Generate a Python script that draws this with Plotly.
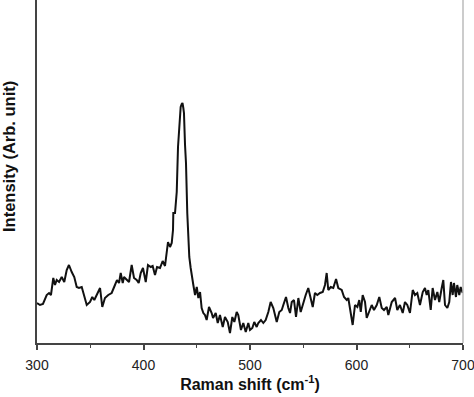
import plotly.graph_objects as go

raman_shift = [300.0, 302.8, 305.6, 309.1, 311.3, 313.1, 315.3, 316.9, 318.5, 320.7, 323.2, 325.6, 327.9, 330.0,
               332.6, 335.0, 337.3, 339.4, 342.0, 344.4, 346.7, 349.8, 351.9, 353.8, 356.1, 359.2, 361.3, 363.8,
               366.9, 370.1, 373.2, 375.1, 377.0, 378.6, 380.5, 381.7, 384.5, 386.4, 388.9, 391.1, 393.6, 395.5,
               397.4, 399.5, 402.1, 404.2, 406.8, 408.6, 410.8, 412.7, 415.5, 418.0, 420.2, 421.8, 423.0, 424.9,
               426.5, 427.7, 428.0, 429.6, 431.2, 432.4, 433.6, 434.9, 435.9, 436.6, 437.4, 438.0, 439.0, 439.9,
               441.1, 442.1, 443.0, 444.3, 445.5, 446.8, 448.4, 450.0, 451.5, 453.1, 454.6, 456.2, 457.7, 459.3,
               461.5, 464.0, 465.3, 467.8, 469.7, 471.8, 474.4, 476.5, 479.1, 481.2, 483.4, 485.3, 487.5, 489.0,
               491.5, 493.7, 496.0, 498.4, 500.0, 502.2, 504.0, 506.3, 507.8, 510.3, 512.5, 514.7, 517.2, 519.4,
               521.9, 525.1, 527.5, 529.8, 531.3, 533.8, 536.0, 537.6, 539.2, 541.3, 543.2, 545.4, 547.6, 550.0,
               552.3, 554.7, 557.0, 558.9, 561.0, 563.2, 565.7, 568.3, 570.4, 572.0, 573.5, 575.8, 578.2, 580.8,
               582.9, 586.1, 588.3, 590.8, 592.3, 593.9, 596.4, 598.6, 600.8, 602.6, 604.0, 605.8, 608.0, 609.6,
               612.0, 614.3, 616.4, 619.0, 621.4, 623.7, 625.8, 628.4, 629.9, 633.1, 636.2, 638.3, 640.8, 643.4,
               645.5, 647.7, 650.2, 652.8, 654.9, 657.1, 659.6, 662.2, 664.3, 665.9, 667.4, 669.7, 671.5, 673.7,
               675.9, 677.7, 680.0, 681.5, 683.1, 685.3, 687.1, 688.7, 690.3, 691.5, 693.4, 694.6, 696.5, 697.8,
               699.7]

intensity = [40, 38, 39, 48, 50, 48, 65, 58, 63, 61, 66, 61, 73, 78,
             71, 66, 56, 55, 56, 48, 38, 41, 46, 43, 48, 55, 36, 45,
             48, 50, 58, 63, 60, 70, 60, 66, 63, 61, 78, 65, 63, 60,
             70, 75, 61, 78, 76, 77, 68, 76, 75, 82, 77, 93, 101, 96,
             100, 113, 130, 130, 151, 196, 213, 236, 239, 240, 235, 230, 198, 180,
             130, 103, 86, 75, 65, 58, 48, 56, 45, 51, 35, 30, 28, 23,
             36, 30, 25, 30, 20, 28, 16, 26, 21, 10, 26, 21, 31, 28,
             13, 20, 11, 20, 13, 15, 21, 16, 20, 23, 20, 23, 31, 41,
             35, 21, 31, 33, 38, 46, 35, 30, 41, 43, 26, 45, 31, 41,
             48, 55, 46, 36, 50, 48, 50, 51, 58, 70, 53, 56, 55, 64,
             55, 53, 46, 43, 45, 35, 18, 38, 36, 43, 31, 48, 41, 25,
             31, 38, 33, 38, 46, 35, 33, 36, 28, 41, 45, 33, 38, 30,
             41, 38, 30, 53, 48, 50, 38, 51, 55, 48, 53, 33, 55, 43,
             51, 41, 55, 63, 38, 35, 41, 61, 48, 60, 46, 58, 48, 56,
             50]

tick_vals = [300, 400, 500, 600, 700]
tick_text = ["300", "400", "500", "600", "700"]

fig = go.Figure()
fig.add_trace(go.Scatter(x=raman_shift, y=intensity, mode="lines",
                         line=dict(color="#111111", width=2), showlegend=False))

font_family = "Liberation Sans, Arial, sans-serif"

fig.update_layout(
    width=474, height=397,
    margin=dict(l=37, r=11, t=0, b=54),
    plot_bgcolor="white", paper_bgcolor="white",
    xaxis=dict(
        range=[300, 700], tickvals=tick_vals, ticktext=tick_text,
        ticks="outside", ticklen=5, tickwidth=1.5, tickcolor="#444",
        showline=True, linecolor="#444", linewidth=1.5,
        showgrid=False, zeroline=False,
        minor=dict(ticks="outside", ticklen=3, tickwidth=1.2, tickcolor="#444", dtick=50, showgrid=False),
        tickfont=dict(family=font_family, size=14, color="#222"),
        ticklabelstandoff=3,
        ticklabeloverflow="allow",
        title=dict(text="<b>Raman shift (cm<sup>-1</sup>)</b>",
                   font=dict(family=font_family, size=16, color="#111"), standoff=7),
    ),
    yaxis=dict(
        range=[0, 343], showticklabels=False, ticks="",
        showline=True, linecolor="#444", linewidth=1.5,
        showgrid=False, zeroline=False,
    ),
    shapes=[dict(type="line", xref="paper", yref="paper", x0=1, x1=1, y0=0, y1=1,
                 line=dict(color="#bbbbbb", width=1.5))],
    annotations=[dict(text="<b>Intensity (Arb. unit)</b>", textangle=-90,
                      xref="paper", yref="paper", x=(9 - 37) / 426, y=(343 - 157) / 343,
                      xanchor="center", yanchor="middle", showarrow=False,
                      font=dict(family=font_family, size=16.5, color="#111"))],
)

fig.write_html("out.html")
